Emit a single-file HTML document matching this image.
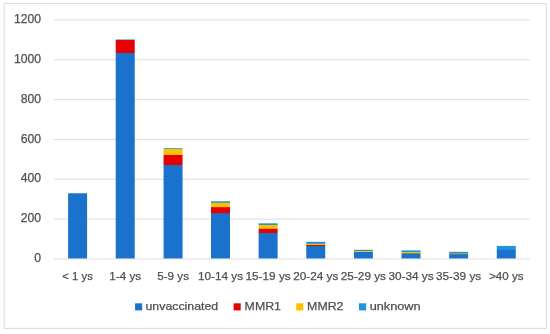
<!DOCTYPE html>
<html lang="en"><head><meta charset="utf-8"><title>Measles cases by age group and vaccination status</title>
<style>
html,body{margin:0;padding:0;background:#fff}
body{width:550px;height:334px;overflow:hidden}
svg{display:block}
text{font-family:"Liberation Sans",Arial,sans-serif;fill:#505050;stroke:#505050;stroke-width:0.25px}
</style></head><body>
<svg width="550" height="334" viewBox="0 0 550 334">
<rect x="0" y="0" width="550" height="334" fill="#ffffff"/>
<rect x="4.15" y="3.55" width="542.3" height="324.85" fill="#ffffff" stroke="#dedede" stroke-width="1.15"/>
<g stroke="#dbdbdb" stroke-width="0.95" fill="none">
<line x1="53.8" y1="19.90" x2="529.8" y2="19.90"/>
<line x1="53.8" y1="59.74" x2="529.8" y2="59.74"/>
<line x1="53.8" y1="99.58" x2="529.8" y2="99.58"/>
<line x1="53.8" y1="139.42" x2="529.8" y2="139.42"/>
<line x1="53.8" y1="179.26" x2="529.8" y2="179.26"/>
<line x1="53.8" y1="219.10" x2="529.8" y2="219.10"/>
<line x1="53.8" y1="258.94" x2="529.8" y2="258.94"/>
</g>
<defs>
<linearGradient id="b2" gradientUnits="userSpaceOnUse" x1="0" y1="39.45" x2="0" y2="258.45"><stop offset="0.00137" stop-color="#1e94da"/><stop offset="0.00411" stop-color="#e60000"/><stop offset="0.06096" stop-color="#e60000"/><stop offset="0.06370" stop-color="#1b72cc"/></linearGradient>
<linearGradient id="b3" gradientUnits="userSpaceOnUse" x1="0" y1="148.20" x2="0" y2="258.45"><stop offset="0.00454" stop-color="#1e94da"/><stop offset="0.00998" stop-color="#ffc000"/><stop offset="0.05805" stop-color="#ffc000"/><stop offset="0.06349" stop-color="#e60000"/><stop offset="0.14875" stop-color="#e60000"/><stop offset="0.15420" stop-color="#1b72cc"/></linearGradient>
<linearGradient id="b4" gradientUnits="userSpaceOnUse" x1="0" y1="201.30" x2="0" y2="258.45"><stop offset="0.01925" stop-color="#1e94da"/><stop offset="0.02975" stop-color="#ffc000"/><stop offset="0.09974" stop-color="#ffc000"/><stop offset="0.11024" stop-color="#e60000"/><stop offset="0.20472" stop-color="#e60000"/><stop offset="0.21522" stop-color="#1b72cc"/></linearGradient>
<linearGradient id="b5" gradientUnits="userSpaceOnUse" x1="0" y1="223.30" x2="0" y2="258.45"><stop offset="0.04267" stop-color="#1e94da"/><stop offset="0.05974" stop-color="#ffc000"/><stop offset="0.14509" stop-color="#ffc000"/><stop offset="0.16216" stop-color="#e60000"/><stop offset="0.26458" stop-color="#e60000"/><stop offset="0.28165" stop-color="#1b72cc"/></linearGradient>
<linearGradient id="b6" gradientUnits="userSpaceOnUse" x1="0" y1="241.80" x2="0" y2="258.45"><stop offset="0.09610" stop-color="#1e94da"/><stop offset="0.13213" stop-color="#ffc000"/><stop offset="0.17417" stop-color="#ffc000"/><stop offset="0.21021" stop-color="#e60000"/><stop offset="0.23423" stop-color="#e60000"/><stop offset="0.27027" stop-color="#1b72cc"/></linearGradient>
<linearGradient id="b7" gradientUnits="userSpaceOnUse" x1="0" y1="249.80" x2="0" y2="258.45"><stop offset="0.10405" stop-color="#1e94da"/><stop offset="0.17341" stop-color="#ffc000"/><stop offset="0.21965" stop-color="#ffc000"/><stop offset="0.28902" stop-color="#1b72cc"/></linearGradient>
<linearGradient id="b8" gradientUnits="userSpaceOnUse" x1="0" y1="250.40" x2="0" y2="258.45"><stop offset="0.16149" stop-color="#1e94da"/><stop offset="0.23602" stop-color="#ffc000"/><stop offset="0.33540" stop-color="#ffc000"/><stop offset="0.40994" stop-color="#1b72cc"/></linearGradient>
<linearGradient id="b9" gradientUnits="userSpaceOnUse" x1="0" y1="251.80" x2="0" y2="258.45"><stop offset="0.13534" stop-color="#1e94da"/><stop offset="0.22556" stop-color="#93a548"/><stop offset="0.34586" stop-color="#93a548"/><stop offset="0.43609" stop-color="#1b72cc"/></linearGradient>
<linearGradient id="b10" gradientUnits="userSpaceOnUse" x1="0" y1="245.90" x2="0" y2="258.45"><stop offset="0.27888" stop-color="#1e94da"/><stop offset="0.32669" stop-color="#1b72cc"/></linearGradient>
</defs>
<g>
<rect x="68.10" y="193.30" width="19.00" height="65.15" fill="#1b72cc"/>
<rect x="115.73" y="39.45" width="19.00" height="219.00" fill="url(#b2)"/>
<rect x="163.56" y="148.20" width="19.00" height="110.25" fill="url(#b3)"/>
<rect x="210.99" y="201.30" width="19.00" height="57.15" fill="url(#b4)"/>
<rect x="258.62" y="223.30" width="19.00" height="35.15" fill="url(#b5)"/>
<rect x="306.25" y="241.80" width="19.00" height="16.65" fill="url(#b6)"/>
<rect x="353.88" y="249.80" width="19.00" height="8.65" fill="url(#b7)"/>
<rect x="401.51" y="250.40" width="19.00" height="8.05" fill="url(#b8)"/>
<rect x="449.14" y="251.80" width="19.00" height="6.65" fill="url(#b9)"/>
<rect x="496.77" y="245.90" width="19.00" height="12.55" fill="url(#b10)"/>
</g>
<g text-anchor="end" font-size="11.9">
<text x="41.0" y="23.0" textLength="27.0" lengthAdjust="spacingAndGlyphs">1200</text>
<text x="41.0" y="62.8" textLength="27.0" lengthAdjust="spacingAndGlyphs">1000</text>
<text x="41.0" y="102.7" textLength="20.3" lengthAdjust="spacingAndGlyphs">800</text>
<text x="41.0" y="142.5" textLength="20.3" lengthAdjust="spacingAndGlyphs">600</text>
<text x="41.0" y="182.4" textLength="20.3" lengthAdjust="spacingAndGlyphs">400</text>
<text x="41.0" y="222.2" textLength="20.3" lengthAdjust="spacingAndGlyphs">200</text>
<text x="41.0" y="262.0" textLength="6.8" lengthAdjust="spacingAndGlyphs">0</text>
</g>
<g text-anchor="middle" font-size="11.7">
<text x="77.6" y="280.2" textLength="30.5" lengthAdjust="spacingAndGlyphs">&lt; 1 ys</text>
<text x="125.2" y="280.2" textLength="31.7" lengthAdjust="spacingAndGlyphs">1-4 ys</text>
<text x="173.1" y="280.2" textLength="31.7" lengthAdjust="spacingAndGlyphs">5-9 ys</text>
<text x="220.5" y="280.2" textLength="45.2" lengthAdjust="spacingAndGlyphs">10-14 ys</text>
<text x="268.1" y="280.2" textLength="45.2" lengthAdjust="spacingAndGlyphs">15-19 ys</text>
<text x="315.8" y="280.2" textLength="45.2" lengthAdjust="spacingAndGlyphs">20-24 ys</text>
<text x="363.4" y="280.2" textLength="45.2" lengthAdjust="spacingAndGlyphs">25-29 ys</text>
<text x="411.0" y="280.2" textLength="45.2" lengthAdjust="spacingAndGlyphs">30-34 ys</text>
<text x="458.6" y="280.2" textLength="45.2" lengthAdjust="spacingAndGlyphs">35-39 ys</text>
<text x="506.3" y="280.2" textLength="34.3" lengthAdjust="spacingAndGlyphs">&gt;40 ys</text>
</g>
<g font-size="11.4">
<rect x="135.1" y="303.3" width="7.1" height="7.1" fill="#1b72cc"/>
<text x="145.5" y="309.6" textLength="72.7" lengthAdjust="spacingAndGlyphs">unvaccinated</text>
<rect x="233.6" y="303.3" width="7.1" height="7.1" fill="#e60000"/>
<text x="244.6" y="309.6" textLength="36.4" lengthAdjust="spacingAndGlyphs">MMR1</text>
<rect x="296.2" y="303.3" width="7.1" height="7.1" fill="#ffc000"/>
<text x="307.1" y="309.6" textLength="36.4" lengthAdjust="spacingAndGlyphs">MMR2</text>
<rect x="359.0" y="303.3" width="7.1" height="7.1" fill="#1e94da"/>
<text x="369.7" y="309.6" textLength="50.9" lengthAdjust="spacingAndGlyphs">unknown</text>
</g>
</svg>
</body></html>
